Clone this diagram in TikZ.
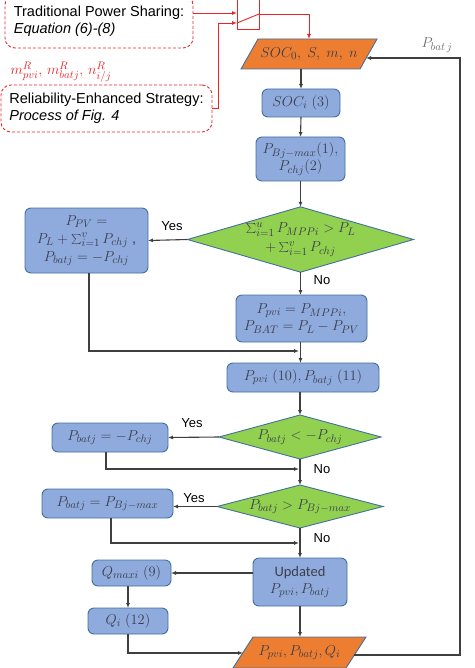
\documentclass[tikz,border=0pt]{standalone}
\usepackage{fontspec}
\setmainfont{Liberation Sans}
\newfontfamily\calib{Carlito}
\DeclareMathSizes{14.5}{14.5}{10.8}{8.5}
\usetikzlibrary{shapes.geometric,arrows.meta,backgrounds,calc}
\definecolor{bluefill}{HTML}{8FAADC}
\definecolor{blueedge}{HTML}{41719C}
\definecolor{greenfill}{HTML}{92D050}
\definecolor{orangefill}{HTML}{ED7D31}
\definecolor{redc}{HTML}{E8262A}
\definecolor{linec}{HTML}{3F3F3F}
\definecolor{mathc}{HTML}{3B3F4C}
\begin{document}
\begin{tikzpicture}[x=1pt,y=-1pt,
  every node/.style={inner sep=0pt, outer sep=0pt},
  mfont/.style={font=\fontsize{14.5}{17}\selectfont},
  procbox/.style={draw=blueedge, fill=bluefill, rounded corners=6pt, line width=0.9pt, align=center, text=mathc, mfont},
  decision/.style={diamond, draw=blueedge, fill=greenfill, line width=0.9pt, align=center, text=mathc, mfont},
  ioshape/.style={align=center, text=mathc, mfont},
  iofill/.style={fill=orangefill, draw=blueedge, line width=0.9pt},
  redbox/.style={draw=redc, dash pattern=on 3pt off 2pt, rounded corners=10pt, line width=0.9pt, align=left, font=\fontsize{14.5}{16.5}\selectfont},
  arr/.style={draw=linec, line width=1.1pt, -{Latex[length=5pt,width=4pt]}},
  redarr/.style={draw=redc, line width=0.9pt, -{Latex[length=5pt,width=4pt]}},
  lbl/.style={font=\fontsize{13}{15}\selectfont, text=black},
]
\useasboundingbox (0,0) rectangle (474,668);

% red selection part
\node[redbox, minimum width=188pt, minimum height=53pt] (box1) at (99,21.5)
  {Traditional Power Sharing:\\\textit{Equation (6)-(8)}};
\node[redbox, minimum width=211pt, minimum height=47pt] (box2) at (106.5,108.5)
  {Reliability-Enhanced Strategy:\\\textit{Process of Fig. 4}};
\node[text=redc, mfont] (mlbl) at (61,72) {$m^{R}_{pvi},\, m^{R}_{batj},\, n^{R}_{i/j}$};
\node[draw=redc, line width=0.9pt, minimum width=22pt, minimum height=30pt] (sw) at (248,14) {};
\draw[redc, line width=2pt] (sw.north west) -- (sw.north east);
\coordinate (swin1) at (237,13);
\coordinate (swin2) at (237,23);
\coordinate (swout) at (259,14);

% main flow nodes
\node[ioshape, minimum width=136pt, minimum height=30pt] (p1) at (309,54) {$SOC_0,\ S,\ m,\ n$};
\node[procbox, minimum width=78pt, minimum height=28pt] (soci) at (301,103) {$SOC_i\ (3)$};
\node[procbox, minimum width=89pt, minimum height=44pt] (pbj) at (300.5,159) {$P_{Bj-max}(1),$\\$P_{chj}(2)$};
\node[decision, aspect=3.46, minimum width=225pt, minimum height=65pt] (d1) at (300.5,239.5)
  {$\sum_{i=1}^{u} P_{MPPi} > P_L$\\[2pt]$+\sum_{i=1}^{v} P_{chj}$};
\node[procbox, minimum width=123pt, minimum height=65pt] (ppv) at (86.5,240.5)
  {$P_{PV} =$\\[1pt]$P_L + \sum_{i=1}^{v} P_{chj}$ ,\\[1pt]$P_{batj} = -P_{chj}$};
\node[procbox, minimum width=131pt, minimum height=47pt] (bmppt) at (301.5,318.5)
  {$P_{pvi} = P_{MPPi},$\\$P_{BAT} = P_L - P_{PV}$};
\node[procbox, minimum width=152pt, minimum height=29pt] (pcalc) at (303,377.5)
  {$P_{pvi}\ (10), P_{batj}\ (11)$};
\node[decision, aspect=3.68, minimum width=162pt, minimum height=44pt] (d2) at (300,437)
  {$P_{batj} < -P_{chj}$};
\node[procbox, minimum width=116pt, minimum height=29pt] (pneg) at (110,437.5)
  {$P_{batj} = -P_{chj}$};
\node[decision, aspect=3.86, minimum width=166pt, minimum height=43pt] (d3) at (300,506.5)
  {$P_{batj} > P_{Bj-max}$};
\node[procbox, minimum width=131pt, minimum height=29pt] (pmax) at (107.5,503.5)
  {$P_{batj} = P_{Bj-max}$};
\node[procbox, minimum width=94pt, minimum height=48pt] (upd) at (300,582)
  {{\calib Updated}\\$P_{pvi}, P_{batj}$};
\node[procbox, minimum width=79pt, minimum height=26pt] (qmax) at (131.5,573)
  {$Q_{maxi}\ (9)$};
\node[procbox, minimum width=80pt, minimum height=26pt] (qi) at (128,621)
  {$Q_i\ (12)$};
\node[ioshape, minimum width=133pt, minimum height=31pt] (p2) at (299.5,652.5)
  {$P_{pvi}, P_{batj}, Q_i$};

\begin{scope}[on background layer]
\filldraw[iofill] ($(p1.north west)+(17,0)$) -- (p1.north east) -- ($(p1.south east)+(-17,0)$) -- (p1.south west) -- cycle;
\filldraw[iofill] ($(p2.north west)+(20,0)$) -- (p2.north east) -- ($(p2.south east)+(-20,0)$) -- (p2.south west) -- cycle;
\end{scope}

% labels
\node[lbl] (yes1) at (172,226) {Yes};
\node[lbl] (no1) at (322,280) {No};
\node[lbl] (yes2) at (192,423) {Yes};
\node[lbl] (no2) at (322,469) {No};
\node[lbl] (yes3) at (194,498) {Yes};
\node[lbl] (no3) at (322,538) {No};
\node[text=gray!85!black, mfont] (fblbl) at (437,45) {$P_{bat\,j}$};

\coordinate (join1) at (299,351);
\coordinate (join2) at (299,469);
\coordinate (join3) at (299,543);
\coordinate (rail) at (460,58);

% red connectors
\draw[redarr] (box1.east |- swin1) -- (swin1);
\draw[redarr] (box2.east) -- ++(6,0) |- (swin2);
\draw[redc, line width=0.9pt] (swin2) -- (swout);
\draw[redarr] (swout) -| (p1.north);

% main connectors
\draw[arr] (soci.north |- p1.south) -- (soci.north);
\draw[arr] (soci.south) -- (pbj.north);
\draw[arr] (pbj.south) -- (d1.north);
\draw[arr] (d1.west) -- (ppv.east);
\draw[arr] (d1.south) -- (bmppt.north -| d1.south);
\draw[arr] ($(ppv.south)+(2.5,0)$) |- (join1);
\draw[arr] (bmppt.south -| d1.south) -- (pcalc.north -| d1.south);
\draw[arr] (pcalc.south -| d2.north) -- (d2.north);
\draw[arr] (d2.west) -- (pneg.east);
\draw[arr] (d2.south) -- (d3.north);
\draw[arr] ($(pneg.south)+(-4,0)$) |- (join2);
\draw[arr] (d3.west) -- (d3.west -| pmax.east);
\draw[arr] (d3.south) -- (upd.north);
\draw[arr] ($(pmax.south)+(3.5,0)$) |- (join3);
\draw[arr] (upd.west |- qmax.east) -- (qmax.east);
\draw[arr] (qi.north |- qmax.south) -- (qi.north);
\draw[arr] (qi.south) |- ($(p2.west)+(10,0.5)$);
\draw[arr] (upd.south) -- (upd.south |- p2.north);
\draw[arr] ($(p2.east)+(-12,2.5)$) -| (rail) -- ($(p1.east)+(-11,4)$);
\end{tikzpicture}
\end{document}
